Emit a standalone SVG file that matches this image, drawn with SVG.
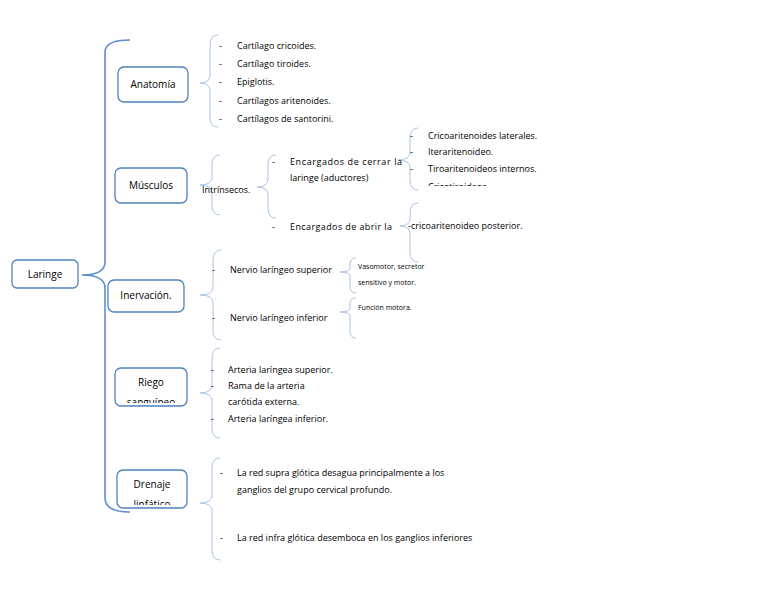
<svg xmlns="http://www.w3.org/2000/svg" width="768" height="594" viewBox="0 0 768 594">
<style>
text{font-family:"Open Sans","Liberation Sans",sans-serif;fill:#000}
.n{font-size:10px;text-anchor:middle}
.t{font-size:9px}
.s{font-size:7px}
.box{fill:#fff;stroke:#4f81bd;stroke-width:1.3}
.br{fill:none;stroke:#a9c4e6;stroke-width:1}
.main{fill:none;stroke:#5b8fd0;stroke-width:1.6}
</style>
<defs>
<clipPath id="c1"><rect x="0" y="0" width="768" height="186"/></clipPath>
<clipPath id="c2"><rect x="115" y="368" width="72" height="35"/></clipPath>
<clipPath id="c3"><rect x="117" y="470" width="70" height="35"/></clipPath>
<clipPath id="c4"><rect x="0" y="0" width="768" height="550"/></clipPath>
</defs>
<rect width="768" height="594" fill="#fff"/>
<g id="connectors">
<path class="main" d="M130,40 Q105,40 105,52 L105,262 Q105,275 82,275 Q105,275 105,288 L105,498 Q105,512 130,512"/>
<path class="br" d="M218,35 Q210,35 210,45 L210,75 Q210,83 200,83 Q210,83 210,91 L210,117 Q210,127 218,127"/>
<path class="br" d="M220,155 Q212,155 212,165 L212,177 Q212,185 200,185 Q212,185 212,193 L212,205 Q212,215 220,215"/>
<path class="br" d="M276,155 Q268,155 268,165 L268,179 Q268,187 257,187 Q268,187 268,195 L268,208 Q268,218 276,218"/>
<path class="br" d="M418,128 Q410,128 410,138 L410,152 Q410,160 398,160 Q410,160 410,168 L410,180 Q410,190 418,190"/>
<path class="br" d="M418,203 Q410,203 410,213 L410,218 Q410,226 400,226 Q410,226 410,234 L410,252 Q410,262 418,262"/>
<path class="br" d="M221,250 Q213,250 213,260 L213,287 Q213,295 200,295 Q213,295 213,303 L213,330 Q213,340 221,340"/>
<path class="br" d="M356,258 Q350,258 350,265 L350,268 Q350,272 340,272 Q350,272 350,276 L350,286 Q350,293 356,293"/>
<path class="br" d="M356,298 Q350,298 350,304 L350,308 Q350,312 340,312 Q350,312 350,316 L350,331 Q350,338 356,338"/>
<path class="br" d="M220,348 Q212,348 212,358 L212,385 Q212,393 200,393 Q212,393 212,401 L212,428 Q212,438 220,438"/>
<path class="br" d="M220,458 Q212,458 212,468 L212,495 Q212,503 200,503 Q212,503 212,511 L212,550 Q212,560 220,560"/>
</g>
<g id="laringe"><rect class="box" x="12" y="260" width="66" height="28" rx="5"/><text class="n" x="45" y="278">Laringe</text></g>
<g id="anatomia"><rect class="box" x="118" y="67" width="70" height="35" rx="6"/><text class="n" x="153" y="88">Anatomía</text></g>
<g id="musculos"><rect class="box" x="115" y="168" width="72" height="35" rx="6"/><text class="n" x="151" y="189">Músculos</text></g>
<g id="inervacion"><rect class="box" x="108" y="280" width="76" height="32" rx="6"/><text class="n" x="146" y="299">Inervación.</text></g>
<g id="riego"><rect class="box" x="115" y="368" width="72" height="38" rx="6"/><g clip-path="url(#c2)"><text class="n" x="151" y="386">Riego</text><text class="n" x="151" y="406">sanguíneo</text></g></g>
<g id="drenaje"><rect class="box" x="117" y="470" width="70" height="38" rx="6"/><g clip-path="url(#c3)"><text class="n" x="152" y="488">Drenaje</text><text class="n" x="152" y="508">linfático</text></g></g>
<g id="anatomia-items">
<text class="t" x="219" y="49">-</text><text class="t" x="237" y="49">Cartílago cricoides.</text>
<text class="t" x="219" y="67">-</text><text class="t" x="237" y="67">Cartílago tiroides.</text>
<text class="t" x="219" y="85">-</text><text class="t" x="237" y="85">Epiglotis.</text>
<text class="t" x="219" y="104">-</text><text class="t" x="237" y="104">Cartílagos aritenoides.</text>
<text class="t" x="219" y="122">-</text><text class="t" x="237" y="122">Cartílagos de santorini.</text>
</g>
<g id="musculos-items">
<text class="t" x="202" y="193">Intrínsecos.</text>
<text class="t" x="272" y="165">-</text><text class="t" x="290" y="165" letter-spacing="0.6">Encargados de cerrar la</text>
<text class="t" x="290" y="181">laringe (aductores)</text>
<text class="t" x="272" y="230">-</text><text class="t" x="290" y="230" letter-spacing="0.4">Encargados de abrir la</text>
<g clip-path="url(#c1)">
<text class="t" x="410" y="139">-</text><text class="t" x="428" y="139">Cricoaritenoides laterales.</text>
<text class="t" x="410" y="155">-</text><text class="t" x="428" y="155">Iteraritenoideo.</text>
<text class="t" x="410" y="172">-</text><text class="t" x="428" y="172">Tiroaritenoideos internos.</text>
<text class="t" x="428" y="190">Cricotiroideos.</text>
</g>
<text class="t" x="408" y="229">-cricoaritenoideo posterior.</text>
</g>
<g id="inervacion-items">
<text class="t" x="212" y="273">-</text><text class="t" x="230" y="273">Nervio laríngeo superior</text>
<text class="t" x="212" y="321">-</text><text class="t" x="230" y="321">Nervio laríngeo inferior</text>
<text class="s" x="358" y="269">Vasomotor, secretor</text>
<text class="s" x="358" y="285">sensitivo y motor.</text>
<text class="s" x="358" y="310">Función motora.</text>
</g>
<g id="riego-items">
<text class="t" x="211" y="373">-</text><text class="t" x="228" y="373">Arteria laríngea superior.</text>
<text class="t" x="211" y="389">-</text><text class="t" x="228" y="389">Rama de la arteria</text>
<text class="t" x="228" y="405">carótida externa.</text>
<text class="t" x="211" y="422">-</text><text class="t" x="228" y="422">Arteria laríngea inferior.</text>
</g>
<g id="drenaje-items">
<text class="t" x="220" y="476">-</text><text class="t" x="237" y="476">La red supra glótica desagua principalmente a los</text>
<text class="t" x="237" y="493">ganglios del grupo cervical profundo.</text>
<g clip-path="url(#c4)">
<text class="t" x="220" y="541">-</text><text class="t" x="237" y="541">La red infra glótica desemboca en los ganglios inferiores</text>
<text class="t" x="237" y="558">del grupo cervical profundo.</text>
</g>
</g>
</svg>
